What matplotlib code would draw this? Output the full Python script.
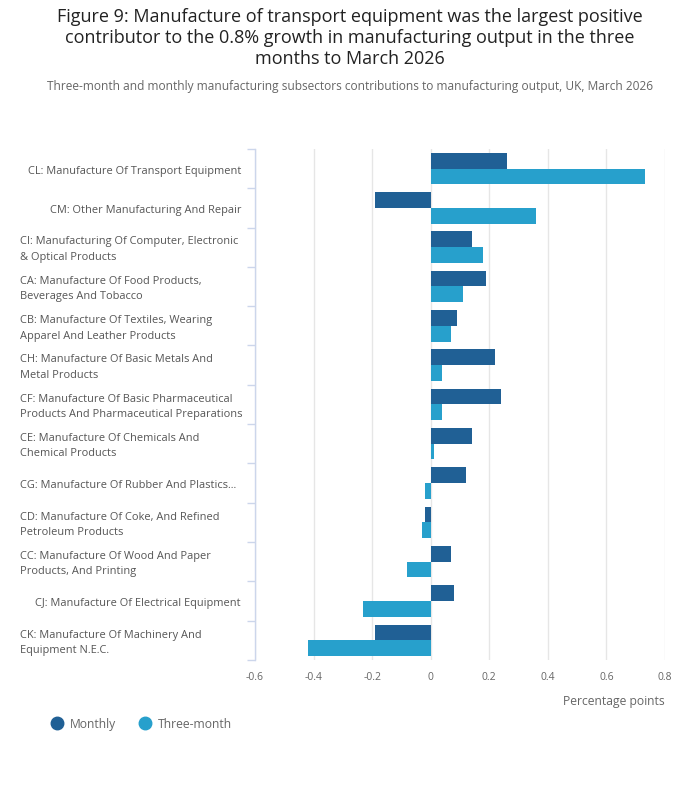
import matplotlib
matplotlib.use("Agg")
import matplotlib.pyplot as plt
from matplotlib.lines import Line2D
from matplotlib.ticker import FuncFormatter
from matplotlib.transforms import blended_transform_factory, offset_copy
import numpy as np

categorie = [
    "CL: Manufacture Of Transport Equipment",
    "CM: Other Manufacturing And Repair",
    "CI: Manufacturing Of Computer, Electronic\n& Optical Products",
    "CA: Manufacture Of Food Products,\nBeverages And Tobacco",
    "CB: Manufacture Of Textiles, Wearing\nApparel And Leather Products",
    "CH: Manufacture Of Basic Metals And\nMetal Products",
    "CF: Manufacture Of Basic Pharmaceutical\nProducts And Pharmaceutical Preparations",
    "CE: Manufacture Of Chemicals And\nChemical Products",
    "CG: Manufacture Of Rubber And Plastics...",
    "CD: Manufacture Of Coke, And Refined\nPetroleum Products",
    "CC: Manufacture Of Wood And Paper\nProducts, And Printing",
    "CJ: Manufacture Of Electrical Equipment",
    "CK: Manufacture Of Machinery And\nEquipment N.E.C.",
]
mensile = [0.26, -0.19, 0.14, 0.19, 0.09, 0.22, 0.24, 0.14, 0.12, -0.02, 0.07, 0.08, -0.19]
trimestrale = [0.73, 0.36, 0.18, 0.11, 0.07, 0.04, 0.04, 0.01, -0.02, -0.03, -0.08, -0.23, -0.42]
xticks = [-0.6, -0.4, -0.2, 0, 0.2, 0.4, 0.6, 0.8]

BLU_SCURO = "#206095"
BLU_CHIARO = "#27a0cc"

plt.rcParams["font.family"] = ["Open Sans", "DejaVu Sans"]
plt.rcParams["axes.unicode_minus"] = False

fig = plt.figure(figsize=(7, 8.1), dpi=100)
ax = fig.add_axes([0.3643, 0.1852, 0.5857, 0.631])

y = np.arange(len(categorie))
h = 0.4
ax.barh(y - h / 2, mensile, height=h, color=BLU_SCURO, zorder=3)
ax.barh(y + h / 2, trimestrale, height=h, color=BLU_CHIARO, zorder=3)

ax.set_xlim(-0.6, 0.8)
ax.set_ylim(len(categorie) - 0.5, -0.5)
ax.set_xticks(xticks)
ax.xaxis.set_major_formatter(FuncFormatter(lambda v, p: "0" if abs(v) < 1e-9 else f"{v:g}"))
ax.tick_params(axis="x", length=0, labelsize=7.5, labelcolor="#666666", pad=9)
ax.grid(axis="x", color="#e6e6e6", linewidth=1, zorder=0)

# tacche ai confini delle categorie
ax.set_yticks([])
ax.set_yticks(np.arange(len(categorie) + 1) - 0.5, minor=True)
ax.tick_params(axis="y", which="minor", length=6, color="#ccd6eb", width=1)

# etichette: su una riga allineate a destra, a capo o troncate allineate a sinistra
trans = offset_copy(blended_transform_factory(fig.transFigure, ax.transData), fig=fig, y=-2.5, units="dots")
for i, nome in enumerate(categorie):
    if "\n" in nome or nome.endswith("..."):
        ax.text(20 / 700, i, nome, transform=trans, ha="left", va="center", fontsize=7.9,
                color="#555555", linespacing=1.55)
    else:
        ax.text(241 / 700, i, nome, transform=trans, ha="right", va="center", fontsize=7.9,
                color="#555555")

for s in ["top", "right", "bottom"]:
    ax.spines[s].set_visible(False)
ax.spines["left"].set_color("#ccd6eb")
ax.spines["left"].set_linewidth(1)

ax.set_xlabel("Percentage points", loc="right", fontsize=8.7, color="#666666", labelpad=8)

fig.text(0.5, 0.99, "Figure 9: Manufacture of transport equipment was the largest positive\n"
         "contributor to the 0.8% growth in manufacturing output in the three\n"
         "months to March 2026", ha="center", va="top", fontsize=13.0, color="#222222",
         linespacing=1.22)
fig.text(0.5, 0.8935, "Three-month and monthly manufacturing subsectors contributions to manufacturing output, UK, March 2026",
         ha="center", va="center", fontsize=8.55, color="#666666")

maniglie = [
    Line2D([], [], marker="o", linestyle="", markersize=9, color=BLU_SCURO),
    Line2D([], [], marker="o", linestyle="", markersize=9, color=BLU_CHIARO),
]
fig.legend(maniglie, ["Monthly", "Three-month"], loc="center left", bbox_to_anchor=(0.057, 0.106),
           ncol=2, frameon=False, fontsize=8.7, labelcolor="#666666", handletextpad=0.6,
           columnspacing=1.85, handlelength=1.0)

fig.savefig("out.png", dpi=100)
